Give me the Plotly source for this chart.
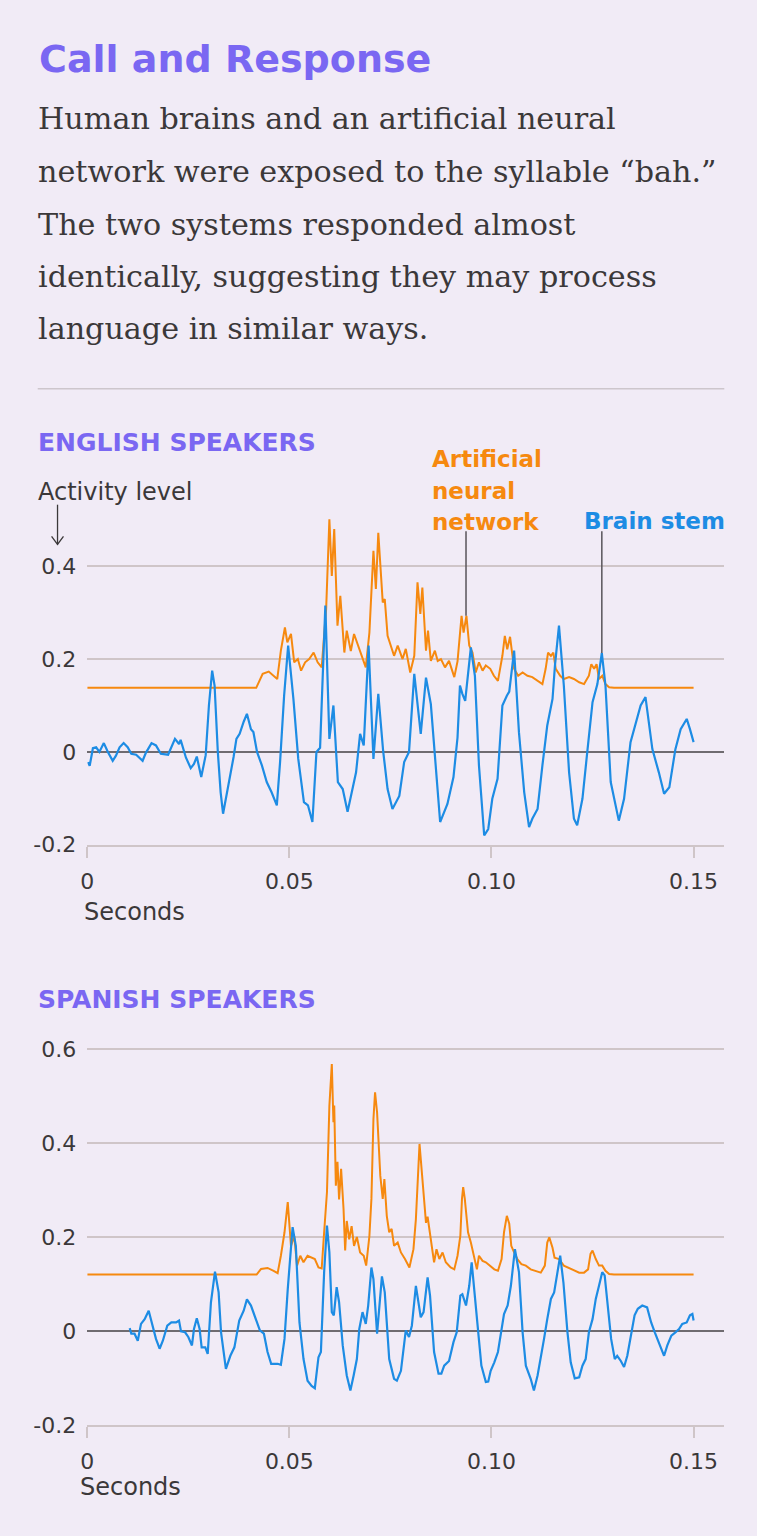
import plotly.graph_objects as go

# ---------------- data ----------------
en_brain_t = [0.0002,0.0006,0.0014,0.0022,0.003,0.0041,0.0051,0.0063,0.0071,0.008,0.009,0.01,0.0109,0.0121,0.0137,0.0145,0.0159,0.017,0.0182,0.02,0.0217,0.0227,0.0231,0.0244,0.0256,0.0264,0.0271,0.0276,0.0282,0.0293,0.0301,0.0309,0.0315,0.0323,0.033,0.0336,0.0346,0.0354,0.0362,0.0369,0.0377,0.0387,0.0395,0.0405,0.0411,0.042,0.0432,0.0444,0.0456,0.0469,0.0477,0.0487,0.0497,0.051,0.0522,0.0536,0.0546,0.0557,0.0567,0.0576,0.0589,0.0599,0.0609,0.062,0.0632,0.0644,0.0655,0.0665,0.0675,0.0684,0.0696,0.0708,0.072,0.0732,0.0743,0.0755,0.0772,0.0784,0.0796,0.0809,0.0825,0.0838,0.085,0.0858,0.0866,0.0873,0.0891,0.0906,0.0916,0.0922,0.0928,0.0935,0.0949,0.0959,0.0969,0.0982,0.0992,0.1002,0.1015,0.1027,0.1038,0.1044,0.1056,0.1068,0.1081,0.1093,0.1101,0.1114,0.1126,0.1138,0.1151,0.1157,0.1167,0.1179,0.1192,0.1204,0.1212,0.1225,0.1237,0.125,0.1262,0.1273,0.1282,0.1295,0.1315,0.1328,0.1344,0.1357,0.1369,0.1381,0.1398,0.1414,0.1427,0.144,0.1455,0.1468,0.1483,0.1491,0.15]
en_brain_v = [-0.022,-0.03,0.008,0.01,0.0,0.019,0.0,-0.019,-0.008,0.01,0.019,0.01,-0.004,-0.006,-0.019,-0.002,0.019,0.014,-0.004,-0.006,0.028,0.017,0.026,-0.012,-0.035,-0.026,-0.01,-0.029,-0.054,-0.007,0.1,0.175,0.143,0.0,-0.087,-0.133,-0.087,-0.044,-0.011,0.028,0.039,0.065,0.082,0.049,0.043,0.0,-0.029,-0.065,-0.087,-0.115,-0.022,0.121,0.229,0.114,-0.015,-0.108,-0.115,-0.151,0.0,0.009,0.315,0.028,0.1,-0.065,-0.08,-0.129,-0.087,-0.044,0.039,0.014,0.229,-0.015,0.125,0.002,-0.08,-0.123,-0.095,-0.022,0.0,0.168,0.039,0.16,0.103,0.017,-0.076,-0.151,-0.112,-0.054,0.031,0.143,0.125,0.11,0.225,0.164,-0.029,-0.18,-0.166,-0.101,-0.058,0.1,0.121,0.13,0.218,0.042,-0.087,-0.162,-0.144,-0.123,-0.029,0.057,0.114,0.186,0.272,0.143,-0.044,-0.144,-0.158,-0.101,0.0,0.107,0.146,0.213,0.143,-0.065,-0.148,-0.101,0.021,0.064,0.1,0.118,0.006,-0.044,-0.09,-0.076,0.006,0.049,0.071,0.049,0.021]

en_ann_t = [0.0,0.0418,0.0434,0.0449,0.047,0.0479,0.0489,0.0495,0.0504,0.0512,0.0521,0.0529,0.0539,0.0549,0.056,0.057,0.058,0.0591,0.0599,0.0605,0.0611,0.0619,0.0626,0.0636,0.0642,0.0652,0.066,0.067,0.0677,0.0689,0.0698,0.0708,0.0714,0.072,0.0731,0.0736,0.0743,0.0751,0.0759,0.0768,0.078,0.0788,0.0799,0.0809,0.0817,0.0824,0.0829,0.0838,0.0843,0.085,0.086,0.0867,0.0875,0.0885,0.0895,0.0908,0.0916,0.0926,0.0931,0.0938,0.0945,0.0953,0.0961,0.0969,0.0978,0.0986,0.0997,0.1006,0.1016,0.1027,0.1033,0.1039,0.1046,0.1056,0.1066,0.1077,0.1089,0.1101,0.1114,0.1126,0.1134,0.114,0.1147,0.1153,0.1159,0.117,0.1179,0.1192,0.1204,0.1217,0.1229,0.1241,0.1247,0.1254,0.126,0.1266,0.1274,0.1282,0.1291,0.1303,0.15]
en_ann_v = [0.138,0.138,0.168,0.173,0.157,0.218,0.268,0.236,0.254,0.193,0.2,0.175,0.193,0.2,0.214,0.193,0.182,0.308,0.501,0.379,0.48,0.272,0.336,0.214,0.261,0.217,0.254,0.229,0.214,0.182,0.257,0.433,0.351,0.472,0.322,0.329,0.25,0.229,0.207,0.229,0.2,0.222,0.171,0.207,0.365,0.297,0.354,0.218,0.261,0.196,0.218,0.196,0.2,0.182,0.196,0.161,0.195,0.293,0.257,0.293,0.229,0.214,0.171,0.193,0.175,0.186,0.179,0.164,0.153,0.207,0.25,0.221,0.248,0.179,0.164,0.171,0.164,0.161,0.153,0.146,0.179,0.214,0.207,0.214,0.179,0.164,0.157,0.161,0.157,0.15,0.146,0.164,0.189,0.179,0.189,0.157,0.164,0.146,0.139,0.138,0.138]

es_brain_t = [0.0105,0.0109,0.0117,0.0125,0.0133,0.0142,0.0152,0.0162,0.017,0.0179,0.0187,0.0198,0.0208,0.022,0.0227,0.0232,0.0242,0.025,0.0259,0.0264,0.0271,0.0278,0.0283,0.0292,0.0298,0.0306,0.0316,0.0325,0.0331,0.0343,0.0354,0.0364,0.0376,0.0387,0.0395,0.0405,0.0418,0.0427,0.0437,0.0446,0.0455,0.0471,0.0479,0.0488,0.0496,0.0508,0.0516,0.0525,0.0535,0.0545,0.0555,0.0563,0.0572,0.0578,0.0586,0.0593,0.0599,0.0605,0.061,0.0617,0.0623,0.0632,0.0642,0.0651,0.0659,0.0667,0.0673,0.0681,0.0689,0.0695,0.0703,0.0708,0.0717,0.0722,0.0729,0.0736,0.0747,0.0759,0.0766,0.0776,0.0788,0.0796,0.0803,0.0813,0.0825,0.0832,0.0842,0.0848,0.0858,0.0869,0.0876,0.0883,0.0895,0.0906,0.0914,0.0923,0.0928,0.0937,0.0945,0.0951,0.0959,0.0967,0.0975,0.0986,0.0992,0.0998,0.1007,0.1016,0.1023,0.1031,0.104,0.1048,0.1058,0.1068,0.1077,0.1085,0.1097,0.1105,0.1114,0.1122,0.113,0.1138,0.1147,0.1155,0.1163,0.117,0.1178,0.1188,0.1196,0.1206,0.1217,0.1225,0.1233,0.1241,0.125,0.1258,0.1266,0.1274,0.128,0.1288,0.1296,0.1305,0.1311,0.132,0.1328,0.1336,0.1346,0.1354,0.1362,0.1373,0.1385,0.1395,0.1404,0.1414,0.1427,0.1435,0.1445,0.1455,0.1464,0.1472,0.1483,0.1491,0.1497,0.15]
es_brain_v = [0.006,-0.006,-0.006,-0.021,0.015,0.025,0.043,0.011,-0.017,-0.038,-0.021,0.011,0.018,0.018,0.022,-0.001,-0.003,-0.013,-0.031,0.004,0.027,0.004,-0.035,-0.035,-0.049,0.061,0.126,0.082,-0.003,-0.081,-0.053,-0.035,0.022,0.043,0.067,0.054,0.025,0.001,-0.006,-0.045,-0.07,-0.07,-0.072,-0.017,0.089,0.221,0.181,0.018,-0.06,-0.106,-0.117,-0.122,-0.056,-0.045,0.125,0.224,0.167,0.04,0.033,0.093,0.061,-0.031,-0.095,-0.127,-0.095,-0.06,0.004,0.04,0.015,0.054,0.135,0.11,-0.006,0.054,0.116,0.082,-0.06,-0.102,-0.106,-0.085,0.001,-0.013,0.011,0.096,0.029,0.04,0.114,0.075,-0.045,-0.091,-0.091,-0.074,-0.064,-0.024,-0.003,0.075,0.078,0.054,0.096,0.146,0.068,-0.003,-0.074,-0.109,-0.108,-0.085,-0.067,-0.045,-0.003,0.036,0.054,0.096,0.174,0.125,-0.003,-0.074,-0.102,-0.127,-0.095,-0.06,-0.017,0.025,0.068,0.082,0.125,0.16,0.103,-0.003,-0.067,-0.101,-0.099,-0.074,-0.06,-0.003,0.025,0.068,0.096,0.125,0.118,0.054,-0.017,-0.06,-0.053,-0.064,-0.077,-0.053,-0.003,0.033,0.047,0.054,0.05,0.018,-0.003,-0.024,-0.053,-0.031,-0.01,-0.003,0.004,0.015,0.018,0.033,0.036,0.022]

es_ann_t = [0.0,0.0419,0.043,0.0446,0.0461,0.0471,0.0479,0.0488,0.0496,0.0504,0.0512,0.0519,0.0527,0.0535,0.0545,0.0555,0.0563,0.0572,0.058,0.0586,0.0593,0.0599,0.0605,0.0609,0.0611,0.0615,0.0619,0.0623,0.0628,0.0634,0.0638,0.0642,0.0648,0.0654,0.066,0.0667,0.0675,0.0684,0.069,0.0698,0.0703,0.0708,0.0712,0.0717,0.072,0.0725,0.0731,0.0735,0.0741,0.0747,0.0753,0.0759,0.0768,0.0776,0.0786,0.0797,0.0807,0.0813,0.0822,0.0827,0.0834,0.0838,0.0842,0.0848,0.0854,0.0858,0.0864,0.0871,0.0879,0.0887,0.0899,0.0908,0.0916,0.0923,0.0927,0.093,0.0934,0.0938,0.0942,0.0949,0.0955,0.0964,0.0969,0.0978,0.0986,0.0997,0.1007,0.1016,0.1025,0.1031,0.1038,0.1044,0.1049,0.1056,0.1064,0.1074,0.1085,0.1097,0.111,0.1122,0.1132,0.1138,0.1143,0.1151,0.1156,0.1167,0.1179,0.1192,0.1204,0.1217,0.1229,0.1239,0.1245,0.125,0.1258,0.1266,0.1274,0.1282,0.1291,0.1303,0.15]
es_ann_v = [0.12,0.12,0.132,0.134,0.128,0.123,0.16,0.21,0.274,0.181,0.202,0.139,0.16,0.146,0.16,0.156,0.153,0.135,0.133,0.21,0.295,0.479,0.568,0.444,0.48,0.309,0.36,0.28,0.345,0.26,0.171,0.234,0.195,0.223,0.181,0.2,0.167,0.16,0.139,0.202,0.281,0.451,0.508,0.465,0.408,0.33,0.281,0.323,0.245,0.21,0.217,0.181,0.188,0.167,0.153,0.135,0.174,0.238,0.398,0.345,0.26,0.23,0.243,0.203,0.174,0.146,0.174,0.153,0.167,0.146,0.135,0.131,0.16,0.203,0.281,0.306,0.281,0.252,0.21,0.188,0.167,0.131,0.16,0.149,0.146,0.139,0.131,0.128,0.153,0.21,0.245,0.228,0.181,0.167,0.153,0.142,0.139,0.131,0.128,0.124,0.139,0.188,0.199,0.177,0.156,0.153,0.139,0.134,0.128,0.124,0.124,0.131,0.164,0.171,0.153,0.139,0.139,0.128,0.121,0.12,0.12]

x_tickvals = [0, 0.05, 0.10, 0.15]
x_ticktext = ["0", "0.05", "0.10", "0.15"]
en_y_tickvals = [-0.2, 0, 0.2, 0.4]
en_y_ticktext = ["-0.2", "0", "0.2", "0.4"]
es_y_tickvals = [-0.2, 0, 0.2, 0.4, 0.6]
es_y_ticktext = ["-0.2", "0", "0.2", "0.4", "0.6"]

# annotation anchor points (data)
ann_label_t, ann_label_v = 0.0937, 0.293
brain_label_t, brain_label_v = 0.1273, 0.213

# ---------------- style ----------------
W, H = 757, 1536
BG = "#f1ebf6"
PURPLE = "#7a67f2"
ORANGE = "#f6890f"
BLUE = "#1d8ce4"
TEXT = "#3b3839"
GRID = "#cfc5c8"
ZERO = "#6f6b70"
SANS = "DejaVu Sans"
SERIF = "DejaVu Serif"


def PX(x):
    return x / W


def PY(y):
    return 1 - y / H


fig = go.Figure()

fig.add_trace(go.Scatter(x=en_ann_t, y=en_ann_v, mode="lines", line=dict(color=ORANGE, width=2),
                         xaxis="x", yaxis="y", hoverinfo="skip"))
fig.add_trace(go.Scatter(x=en_brain_t, y=en_brain_v, mode="lines", line=dict(color=BLUE, width=2.2),
                         xaxis="x", yaxis="y", hoverinfo="skip"))
fig.add_trace(go.Scatter(x=es_ann_t, y=es_ann_v, mode="lines", line=dict(color=ORANGE, width=2),
                         xaxis="x2", yaxis="y2", hoverinfo="skip"))
fig.add_trace(go.Scatter(x=es_brain_t, y=es_brain_v, mode="lines", line=dict(color=BLUE, width=2.2),
                         xaxis="x2", yaxis="y2", hoverinfo="skip"))

X0, X15, XR = 81, 693, 724
x_dom = [PX(X0), PX(XR)]
x_range = [0, (XR - X0) / ((X15 - X0) / 0.15)]


def xaxis(anchor):
    return dict(domain=x_dom, range=x_range, anchor=anchor, tickvals=x_tickvals, ticktext=x_ticktext,
                showgrid=False, zeroline=False, showline=True, linecolor=GRID, linewidth=1.5,
                ticks="outside", ticklen=11, tickwidth=1.5, tickcolor=GRID,
                tickfont=dict(family=SANS, size=22, color=TEXT), ticklabelstandoff=5, fixedrange=True)


def yaxis(anchor, dom, rng, tv, tt):
    return dict(domain=dom, range=rng, anchor=anchor, tickvals=tv, ticktext=tt,
                showgrid=True, gridcolor=GRID, gridwidth=1.5,
                zeroline=True, zerolinecolor=ZERO, zerolinewidth=1.5, showline=False, ticks="",
                tickfont=dict(family=SANS, size=22, color=TEXT), ticklabelstandoff=10, fixedrange=True)


# top chart: -0.2 -> 852 px, 0.4 -> 571 px
t_bot, t_top_px = 852, 571
t_scale = (t_bot - t_top_px) / 0.6
t_max = 0.54
# bottom chart: -0.2 -> 1437 px, 0.6 -> 1058 px
b_bot, b_top_px = 1437, 1058
b_scale = (b_bot - b_top_px) / 0.8
b_max = 0.64

fig.update_layout(
    width=W, height=H, margin=dict(l=0, r=0, t=0, b=0),
    paper_bgcolor=BG, plot_bgcolor=BG, showlegend=False,
    xaxis=xaxis("y"),
    yaxis=yaxis("x", [PY(t_bot), PY(t_bot - (t_max + 0.2) * t_scale)], [-0.2, t_max], en_y_tickvals, en_y_ticktext),
    xaxis2=xaxis("y2"),
    yaxis2=yaxis("x2", [PY(b_bot), PY(b_bot - (b_max + 0.2) * b_scale)], [-0.2, b_max], es_y_tickvals, es_y_ticktext),
)

annotations = []


def text(x, y, s, size, color, family=SANS, weight="normal"):
    annotations.append(dict(xref="paper", yref="paper", x=PX(x), y=PY(y), text=s, showarrow=False,
                            xanchor="left", yanchor="middle",
                            font=dict(family=family, size=size, color=color, weight=weight)))


text(30, 59, "Call and Response", 38, PURPLE, weight="bold")
body = ["Human brains and an artificial neural",
        "network were exposed to the syllable \u201cbah.\u201d",
        "The two systems responded almost",
        "identically, suggesting they may process",
        "language in similar ways."]
body_y = [120, 173, 226, 279, 331]
for yy, line in zip(body_y, body):
    text(29, yy, line, 30.2, TEXT, family=SERIF)

text(29, 446, "ENGLISH SPEAKERS", 25, PURPLE, weight="bold")
text(29, 496, "Activity level", 24, TEXT)
text(427, 463, "Artificial", 23, ORANGE, weight="bold")
text(427, 495, "neural", 23, ORANGE, weight="bold")
text(427, 526, "network", 23, ORANGE, weight="bold")
text(580, 525, "Brain stem", 23, BLUE, weight="bold")
text(76, 920, "Seconds", 24, TEXT)

text(29, 1008, "SPANISH SPEAKERS", 25, PURPLE, weight="bold")
text(72, 1500, "Seconds", 24, TEXT)

fig.update_layout(annotations=annotations)

shapes = [
    dict(type="line", xref="paper", yref="paper", x0=PX(31), x1=PX(724), y0=PY(392), y1=PY(392),
         line=dict(color="#cdc6cc", width=1.5)),
    # activity level arrow
    dict(type="line", xref="paper", yref="paper", x0=PX(51), x1=PX(51), y0=PY(509), y1=PY(549),
         line=dict(color=TEXT, width=1.3)),
    dict(type="path", xref="paper", yref="paper",
         path=f"M {PX(45)},{PY(541)} L {PX(51)},{PY(549)} L {PX(57)},{PY(541)}",
         line=dict(color=TEXT, width=1.3)),
    # leader lines
    dict(type="line", xref="x", yref="y", x0=ann_label_t, x1=ann_label_t, y0=ann_label_v, y1=0.475,
         line=dict(color="#58545a", width=1.5)),
    dict(type="line", xref="x", yref="y", x0=brain_label_t, x1=brain_label_t, y0=brain_label_v, y1=0.475,
         line=dict(color="#58545a", width=1.5)),
]
fig.update_layout(shapes=shapes)

fig.write_html("out.html")
